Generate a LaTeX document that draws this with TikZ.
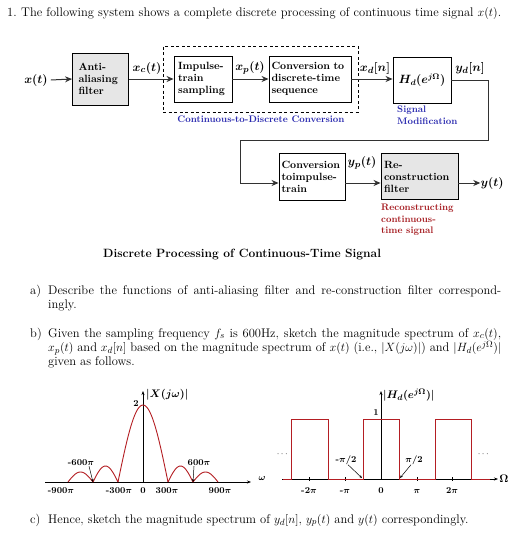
\documentclass[tikz,border=0pt]{standalone}
\usepackage{amsmath,bm}
\usetikzlibrary{arrows.meta}
\definecolor{dblue}{RGB}{40,40,175}
\definecolor{dred}{RGB}{165,25,30}
\definecolor{cred}{RGB}{180,30,35}
\definecolor{boxgray}{RGB}{230,230,230}
\definecolor{linegray}{RGB}{50,50,50}
\begin{document}
\begin{tikzpicture}[x=1pt,y=-1pt,
  blk/.style={draw=black, line width=0.9pt, inner ysep=0pt, align=left,
    font=\fontsize{10.5}{12}\selectfont\bfseries},
  sig/.style={inner sep=0pt, font=\fontsize{12.5}{14}\selectfont},
  conn/.style={line width=1pt, draw=linegray, -{Stealth[length=7pt,width=6pt]}},
  qtext/.style={anchor=base west, inner sep=0pt, font=\fontsize{12.5}{14}\selectfont},
  note/.style={anchor=north west, inner sep=0pt, align=left,
    font=\fontsize{9.5}{11.5}\selectfont\bfseries},
  axis/.style={line width=0.6pt, -{Stealth[length=4pt,width=3pt]}},
  tick/.style={inner sep=0pt, font=\fontsize{9}{10}\selectfont\bfseries},
  curve/.style={draw=cred, line width=0.9pt},
  pointer/.style={line width=0.5pt, -{Stealth[length=3pt,width=2.5pt]}}
]
\useasboundingbox (0,0) rectangle (511,541);
\fill[white] (0,0) rectangle (511,541);

% ---------- heading line ----------
\node[qtext] (n1) at (7,16) {1.};
\node[qtext] (l1) at (21,16)
  {\makebox[480pt][s]{The following system shows a complete discrete processing of continuous time signal $x(t)$.}};

% ---------- block diagram ----------
\node[blk, fill=boxgray, minimum width=56pt, minimum height=52pt, inner xsep=6pt, text width=44pt] (aa) at (100.5,79) {Anti-\\aliasing\\filter};
\node[blk, minimum width=58pt, minimum height=46pt, inner xsep=4pt, text width=50pt] (imp) at (203,79) {Impulse-\\train\\sampling};
\node[blk, minimum width=82pt, minimum height=46pt, inner xsep=2.5pt, text width=77pt] (conv) at (310,79) {Conversion to\\discrete-time\\sequence};
\node[blk, minimum width=58pt, minimum height=46pt, align=center, text width=52pt, inner xsep=3pt, font=\fontsize{11.5}{13}\selectfont] (H) at (422,80) {$\bm{H_d(e^{j\Omega})}$};
\node[draw=black, line width=0.8pt, dash pattern=on 3pt off 2.5pt, minimum width=195pt, minimum height=66pt, inner sep=0pt] (cd) at (260.5,79) {};

\node[sig] (xin) at (36,80) {$\bm{x(t)}$};
\node[sig] (xc) at (147,68) {$\bm{x_c(t)}$};
\node[sig] (xp) at (250,68) {$\bm{x_p(t)}$};
\node[sig] (xd) at (375,68) {$\bm{x_d[n]}$};
\node[sig] (yd) at (470,68) {$\bm{y_d[n]}$};

\draw[conn] (xin.east) ++(3pt,0) -- (aa.west);
\draw[conn] (aa.east) -- (aa.east -| imp.west);
\draw[conn] (imp.east) -- (conv.west);
\draw[conn] (conv.east) -- (conv.east -| H.west);

\node[note, anchor=north, text=dblue] (cdl) at (261,116) {Continuous-to-Discrete Conversion};
\node[note, text=dblue] (sm) at (397,106) {Signal\\Modification};

% second row
\node[blk, minimum width=66pt, minimum height=47pt, inner xsep=2.5pt, text width=61pt] (cti) at (312,176.5) {Conversion\\to\hspace{0.1pt}impulse-\\train};
\node[blk, fill=boxgray, minimum width=77pt, minimum height=46pt, inner xsep=3pt, text width=71pt] (rec) at (419.5,176.5) {Re-\\construction\\filter};
\node[sig] (yp) at (362,163) {$\bm{y_p(t)}$};
\node[sig] (yout) at (492,183) {$\bm{y(t)}$};

\coordinate (r2) at (0,183);
\coordinate (fbA) at (488,140);
\coordinate (fbB) at (240,183);
\draw[conn] (H.east) -| (fbA) -| (fbB) -- (fbB -| cti.west);
\draw[conn] (cti.east |- r2) -- (rec.west |- r2);
\draw[conn] (rec.east |- r2) -- (yout.west);

\node[note, text=dred] (rc) at (381,204) {Reconstructing\\continuous-\\time signal};

\node[anchor=base west, inner sep=0pt, font=\fontsize{12}{13}\selectfont\bfseries] (bt) at (103,257) {Discrete Processing of Continuous-Time Signal};

% ---------- questions ----------
\node[qtext] (qa) at (30,294) {a)};
\node[qtext] (qa1) at (48,294) {\makebox[453pt][s]{Describe the functions of anti-aliasing filter and re-construction filter correspond-}};
\node[qtext] (qa2) at (48,308) {ingly.};
\node[qtext] (qb) at (30,337) {b)};
\node[qtext] (qb1) at (48,337) {\makebox[453pt][s]{Given the sampling frequency $f_s$ is 600Hz, sketch the magnitude spectrum of $x_c(t)$,}};
\node[qtext] (qb2) at (48,351.5) {\makebox[453pt][s]{$x_p(t)$ and $x_d[n]$ based on the magnitude spectrum of $x(t)$ (i.e., $|X(j\omega)|$) and $|H_d(e^{j\Omega})|$}};
\node[qtext] (qb3) at (48,365.5) {given as follows.};
\node[qtext] (qc) at (30,523) {c)};
\node[qtext] (qc1) at (48,523) {Hence, sketch the magnitude spectrum of $y_d[n]$, $y_p(t)$ and $y(t)$ correspondingly.};

% ---------- left plot ----------
\draw[axis] (45,482) -- (251,482);
\draw[axis] (143,482) -- (143,391);
\node[inner sep=0pt, font=\fontsize{9}{10}\selectfont] (om1) at (262,478) {$\bm{\omega}$};
\node[anchor=west, inner sep=0pt, font=\fontsize{11}{12}\selectfont] (Xl) at (146,395) {$\bm{|X(j\omega)|}$};
\node[tick] (two) at (136,404) {2};
\draw[curve] plot[domain=-25:25, samples=41, smooth] ({143+\x},{482-77*cos(3.6*\x)});
\draw[curve] plot[domain=93:118, samples=21, smooth] (\x,{482-16*sin(7.2*(\x-93))});
\draw[curve] plot[domain=68:93, samples=21, smooth] (\x,{482-10*sin(7.2*(\x-68))});
\draw[curve] plot[domain=168:193, samples=21, smooth] (\x,{482-16*sin(7.2*(\x-168))});
\draw[curve] plot[domain=193:218, samples=21, smooth] (\x,{482-10*sin(7.2*(\x-193))});
\node[tick] (m600) at (81,463) {-600$\bm{\pi}$};
\node[tick] (p600) at (199,463) {600$\bm{\pi}$};
\coordinate (z1) at (93,482);
\coordinate (z2) at (193,482);
\draw[pointer] (m600.south) ++(8pt,0) -- (z1);
\draw[pointer] (p600.south) ++(-5pt,0) -- (z2);
\node[tick] (t1) at (61,491) {-900$\bm{\pi}$};
\node[tick] (t2) at (119,491) {-300$\bm{\pi}$};
\node[tick] (t3) at (143,491) {0};
\node[tick] (t4) at (167,491) {300$\bm{\pi}$};
\node[tick] (t5) at (220,491) {900$\bm{\pi}$};

% ---------- right plot ----------
\draw[axis] (282,479) -- (498,479);
\draw[axis] (381,479) -- (381,391);
\node[inner sep=0pt, font=\fontsize{10.5}{11}\selectfont] (Om) at (504,479) {$\bm{\Omega}$};
\node[anchor=west, inner sep=0pt, font=\fontsize{11}{12}\selectfont] (Hl) at (383,395) {$\bm{|H_d(e^{j\Omega})|}$};
\node[tick] (one) at (376,413) {1};
\foreach \t in {309,345,417,452} \draw[line width=0.5pt] (\t,477) -- (\t,481);
\draw[curve] (283,479) -- (291,479) -- (291,419) -- (328,419) -- (328,479) -- (363,479) -- (363,419) -- (399,419) -- (399,479) -- (435,479) -- (435,419) -- (471,419) -- (471,479) -- (490,479);
\node[tick] (dl) at (283,454) {$\cdots$};
\node[tick] (dr) at (484,454) {$\cdots$};
\node[tick] (mh) at (346,460) {-$\bm{\pi/2}$};
\node[tick] (ph) at (414,460) {$\bm{\pi/2}$};
\coordinate (c1) at (362,478);
\coordinate (c2) at (400,478);
\draw[pointer] (mh.south) ++(2pt,0) -- (c1);
\draw[pointer] (ph.south) ++(-3pt,0) -- (c2);
\node[tick] (s1) at (309,491) {-2$\bm{\pi}$};
\node[tick] (s2) at (345,491) {-$\bm{\pi}$};
\node[tick] (s3) at (381,491) {0};
\node[tick] (s4) at (417,491) {$\bm{\pi}$};
\node[tick] (s5) at (452,491) {2$\bm{\pi}$};
\end{tikzpicture}
\end{document}
